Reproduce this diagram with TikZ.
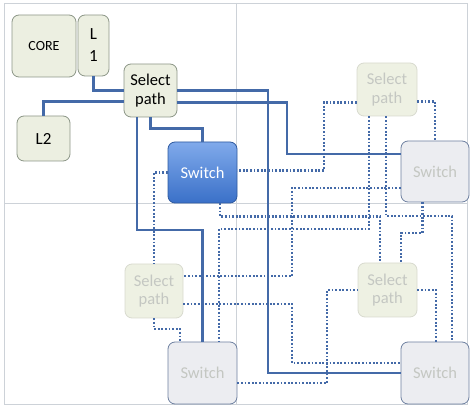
\documentclass[tikz,border=0pt]{standalone}
\usepackage{fontspec}
\setmainfont{Carlito}
\usepackage{tikz}

\definecolor{boxfill}{RGB}{236,239,225}
\definecolor{boxline}{RGB}{140,150,135}
\definecolor{fadefill}{RGB}{238,241,227}
\definecolor{fadetext}{RGB}{196,199,194}
\definecolor{swfill}{RGB}{236,237,241}
\definecolor{swline}{RGB}{110,128,160}
\definecolor{bluetop}{RGB}{128,170,235}
\definecolor{bluebot}{RGB}{58,112,200}
\definecolor{linkblue}{RGB}{68,106,168}
\definecolor{framegray}{RGB}{205,210,216}

\tikzset{
  box/.style={draw=boxline, fill=boxfill, rounded corners=7pt, line width=0.8pt,
    align=center, inner sep=0pt, font=\fontsize{16.5}{18.5}\selectfont},
  fadebox/.style={box, draw=fadefill!80!gray, fill=fadefill, text=fadetext},
  swbox/.style={box, draw=swline, fill=swfill, text=fadetext},
  blueswitch/.style={box, draw=bluebot!80!black, top color=bluetop, bottom color=bluebot, text=white},
  solidlink/.style={draw=linkblue, line width=2.6pt},
  dotlink/.style={draw=linkblue, line width=2.3pt, dash pattern=on 1.8pt off 1.8pt}
}

\begin{document}
\begin{tikzpicture}[x=1pt, y=-1pt]
\useasboundingbox (0,0) rectangle (474,411);
% quadrants
\draw[framegray, line width=0.8pt] (4,3) rectangle (467,404);
\draw[framegray, line width=0.8pt] (236,3) -- (236,404);
\draw[framegray, line width=0.8pt] (4,203) -- (467,203);

% top left
\node[box, minimum width=64pt, minimum height=62pt, font=\fontsize{14}{16}\selectfont] (core) at (44,46) {CORE};
\node[box, minimum width=31pt, minimum height=61pt, font=\fontsize{17}{22}\selectfont] (l1) at (93.5,45.5) {L\\1};
\node[box, minimum width=53pt, minimum height=53pt] (sptl) at (150.5,90.5) {Select\\path};
\node[box, minimum width=53pt, minimum height=45pt, font=\fontsize{17}{20}\selectfont] (l2) at (43.5,138.5) {L2};
\node[blueswitch, minimum width=69pt, minimum height=61pt] (swb) at (202.5,172.5) {Switch};

% the other three quadrants
\node[fadebox, minimum width=60pt, minimum height=53pt] (sptr) at (387,89.5) {Select\\path};
\node[swbox, minimum width=68pt, minimum height=61pt] (swtr) at (435,171.5) {Switch};
\node[fadebox, minimum width=58pt, minimum height=54pt] (spbl) at (154,291) {Select\\path};
\node[swbox, minimum width=69pt, minimum height=62pt] (swbl) at (202.5,373) {Switch};
\node[fadebox, minimum width=59pt, minimum height=54pt] (spbr) at (387.5,290) {Select\\path};
\node[swbox, minimum width=68pt, minimum height=62pt] (swbr) at (435,373) {Switch};

% solid links
\draw[solidlink] (l1.south) |- (sptl.west);
\draw[solidlink] (l2.north) |- ([yshift=-11pt]sptl.west);
\draw[solidlink] (sptl.east) -- (268,90.5) |- (swbr.west);
\draw[solidlink] ([yshift=-12pt]sptl.east) -- (287,102.5) |- ([yshift=17.5pt]swtr.west);
\draw[solidlink] ([xshift=-13.5pt]sptl.south) -- (137,230) -| (swbl.north);
\draw[solidlink] (sptl.south) -- (150.5,128.5) -| (swb.north);

% dotted links
\draw[dotlink] (swb.west) -| (spbl.north);
\draw[dotlink] ([yshift=-13pt]sptr.west) -- (324,102.5) |- ([yshift=2pt]swb.east);
\draw[dotlink] ([xshift=17.5pt]swb.south) -- (220,216.5) -| ([xshift=-7.5pt]spbr.north);
\draw[dotlink] ([yshift=-12pt]sptr.east) -| (swtr.north);
\draw[dotlink] ([xshift=-18pt]sptr.south) -- (369,229) -| ([xshift=16.5pt]swbl.north);
\draw[dotlink] ([xshift=-1pt]sptr.south) -- (386,216) -| ([xshift=17pt]swbr.north);
\draw[dotlink] ([xshift=-12.5pt]swtr.south) -- (422.5,233) -| ([xshift=13.5pt]spbr.north);
\draw[dotlink] ([yshift=-16.5pt]swtr.west) -- (292,188) |- ([yshift=15pt]spbl.east);
\draw[dotlink] ([yshift=-13pt]spbl.east) -- (292,304) |- ([yshift=10pt]swbr.west);
\draw[dotlink] (spbl.south) -- (154,329) -| ([xshift=-22.5pt]swbl.north);
\draw[dotlink] ([yshift=-10pt]swbl.east) -- (327,383) |- (spbr.west);
\draw[dotlink] (spbr.east) -| ([xshift=1pt]swbr.north);
\end{tikzpicture}
\end{document}
